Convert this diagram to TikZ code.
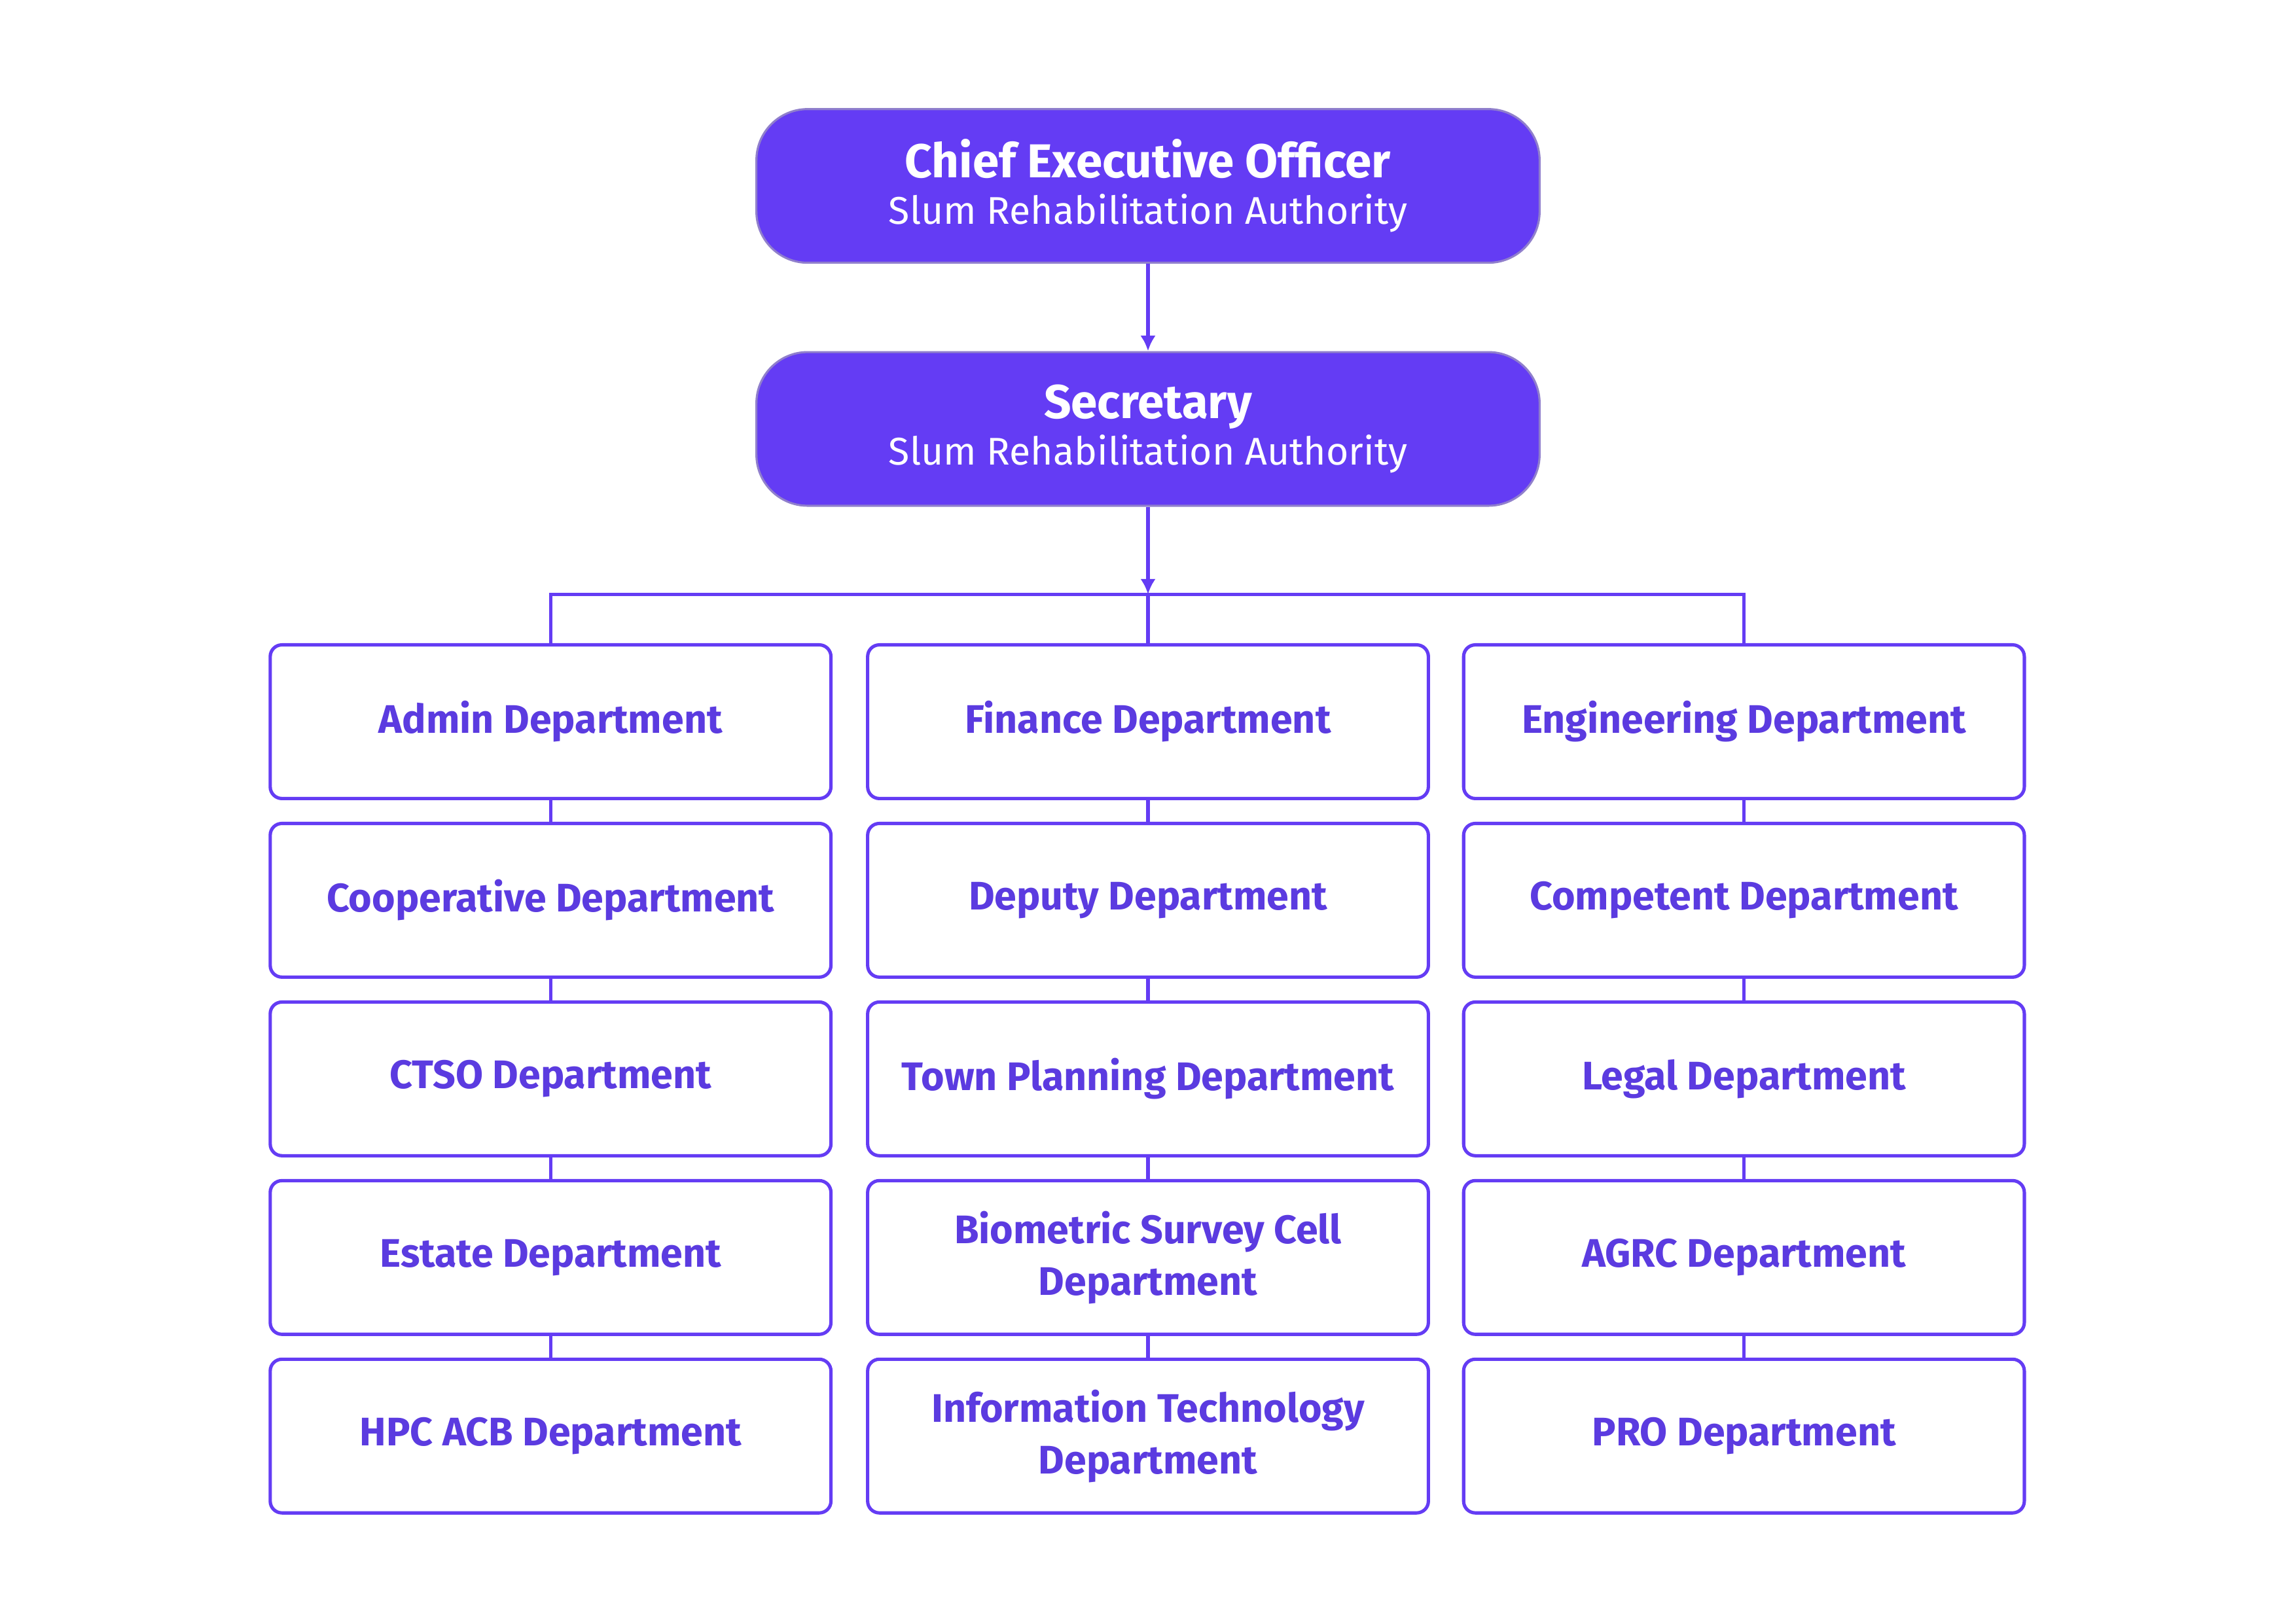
\documentclass[tikz,border=0pt]{standalone}
\usepackage{fontspec}
\setmainfont{Fira Sans}
\usetikzlibrary{arrows.meta}
\definecolor{pf}{HTML}{643CF4}
\definecolor{pt}{HTML}{5B3BE0}
\begin{document}
\begin{tikzpicture}[x=0.02cm,y=-0.02cm,
 top/.style={draw=pf!70!black!60,line width=0.8pt,fill=pf,rounded corners=0.7cm,minimum width=10.7cm,minimum height=2.1cm,align=center,text=white,font=\fontsize{15}{18}\selectfont},
 dep/.style={draw=pf,line width=1.3pt,fill=white,rounded corners=0.16cm,minimum width=7.66cm,minimum height=2.1cm,align=center,text=pt,font=\fontsize{15.5}{20}\selectfont\bfseries},
 ln/.style={draw=pf,line width=1.3pt},
 ar/.style={ln,-{Latex[length=6pt,width=6pt]}}]
\useasboundingbox (0,0) rectangle (1568,1109);
\node[top] (ceo) at (784,127) {{\fontsize{18.5}{22}\selectfont\bfseries Chief Executive Officer}\\Slum Rehabilitation Authority};
\node[top] (sec) at (784,293) {{\fontsize{18.5}{22}\selectfont\bfseries Secretary}\\Slum Rehabilitation Authority};
\coordinate (j) at (784,406);
\draw[ar] (ceo) -- (sec);
\draw[ar] (sec) -- (j);
\foreach \n/\x in {a/376,b/784,c/1191}{
 \foreach \r/\y in {1/493,2/615,3/737,4/859,5/981}{
  \coordinate (\n\r) at (\x,\y);
 }}
\node[dep] (a1) at (a1) {Admin Department};
\node[dep] (a2) at (a2) {Cooperative Department};
\node[dep] (a3) at (a3) {CTSO Department};
\node[dep] (a4) at (a4) {Estate Department};
\node[dep] (a5) at (a5) {HPC ACB Department};
\node[dep] (b1) at (b1) {Finance Department};
\node[dep] (b2) at (b2) {Deputy Department};
\node[dep] (b3) at (b3) {Town Planning Department};
\node[dep] (b4) at (b4) {Biometric Survey Cell\\Department};
\node[dep] (b5) at (b5) {Information Technology\\Department};
\node[dep] (c1) at (c1) {Engineering Department};
\node[dep] (c2) at (c2) {Competent Department};
\node[dep] (c3) at (c3) {Legal Department};
\node[dep] (c4) at (c4) {AGRC Department};
\node[dep] (c5) at (c5) {PRO Department};
\draw[ln] (a1.north) |- (j) -| (c1.north);
\draw[ln] (j) -- (b1.north);
\foreach \n in {a,b,c}{
 \draw[ln] (\n1) -- (\n2); \draw[ln] (\n2) -- (\n3); \draw[ln] (\n3) -- (\n4); \draw[ln] (\n4) -- (\n5);}
\end{tikzpicture}
\end{document}
